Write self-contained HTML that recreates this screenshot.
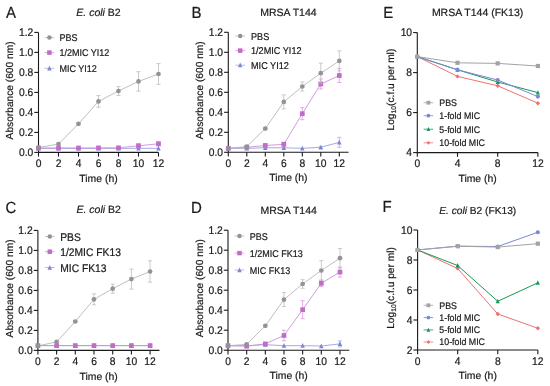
<!DOCTYPE html>
<html><head><meta charset="utf-8"><style>
html,body{margin:0;padding:0;background:#fff;width:550px;height:386px;overflow:hidden}
svg{display:block;will-change:transform;filter:blur(0.3px)}
text{font-family:"Liberation Sans", sans-serif;fill:#1a1a1a;text-rendering:geometricPrecision;stroke:#1a1a1a;stroke-width:0.2px}
</style></head><body>
<svg width="550" height="386" viewBox="0 0 550 386">
<rect width="550" height="386" fill="#fff"/>
<g>
<text transform="translate(6 17.8) scale(1 1.07)" font-size="15" text-anchor="start" >A</text>
<text x="98.5" y="16.1" font-size="10.5" text-anchor="middle"><tspan font-style="italic">E. coli</tspan> B2</text>
<path d="M38.5 32.4V152.4H158.5" fill="none" stroke="#1a1a1a" stroke-width="1.1"/>
<path d="M34.3 152.4H38.5" stroke="#1a1a1a" stroke-width="1.1"/>
<text transform="translate(33.3 156.25) scale(1 1.08)" font-size="10.3" text-anchor="end" >0.0</text>
<path d="M34.3 132.4H38.5" stroke="#1a1a1a" stroke-width="1.1"/>
<text transform="translate(33.3 136.25) scale(1 1.08)" font-size="10.3" text-anchor="end" >0.2</text>
<path d="M34.3 112.4H38.5" stroke="#1a1a1a" stroke-width="1.1"/>
<text transform="translate(33.3 116.25) scale(1 1.08)" font-size="10.3" text-anchor="end" >0.4</text>
<path d="M34.3 92.4H38.5" stroke="#1a1a1a" stroke-width="1.1"/>
<text transform="translate(33.3 96.25) scale(1 1.08)" font-size="10.3" text-anchor="end" >0.6</text>
<path d="M34.3 72.4H38.5" stroke="#1a1a1a" stroke-width="1.1"/>
<text transform="translate(33.3 76.25) scale(1 1.08)" font-size="10.3" text-anchor="end" >0.8</text>
<path d="M34.3 52.4H38.5" stroke="#1a1a1a" stroke-width="1.1"/>
<text transform="translate(33.3 56.25) scale(1 1.08)" font-size="10.3" text-anchor="end" >1.0</text>
<path d="M34.3 32.4H38.5" stroke="#1a1a1a" stroke-width="1.1"/>
<text transform="translate(33.3 36.25) scale(1 1.08)" font-size="10.3" text-anchor="end" >1.2</text>
<path d="M38.5 152.4V156.6" stroke="#1a1a1a" stroke-width="1.1"/>
<text transform="translate(38.5 167.2) scale(1 1.08)" font-size="10.3" text-anchor="middle" >0</text>
<path d="M58.5 152.4V156.6" stroke="#1a1a1a" stroke-width="1.1"/>
<text transform="translate(58.5 167.2) scale(1 1.08)" font-size="10.3" text-anchor="middle" >2</text>
<path d="M78.5 152.4V156.6" stroke="#1a1a1a" stroke-width="1.1"/>
<text transform="translate(78.5 167.2) scale(1 1.08)" font-size="10.3" text-anchor="middle" >4</text>
<path d="M98.5 152.4V156.6" stroke="#1a1a1a" stroke-width="1.1"/>
<text transform="translate(98.5 167.2) scale(1 1.08)" font-size="10.3" text-anchor="middle" >6</text>
<path d="M118.5 152.4V156.6" stroke="#1a1a1a" stroke-width="1.1"/>
<text transform="translate(118.5 167.2) scale(1 1.08)" font-size="10.3" text-anchor="middle" >8</text>
<path d="M138.5 152.4V156.6" stroke="#1a1a1a" stroke-width="1.1"/>
<text transform="translate(138.5 167.2) scale(1 1.08)" font-size="10.3" text-anchor="middle" >10</text>
<path d="M158.5 152.4V156.6" stroke="#1a1a1a" stroke-width="1.1"/>
<text transform="translate(158.5 167.2) scale(1 1.08)" font-size="10.3" text-anchor="middle" >12</text>
<text x="98.5" y="181.5" font-size="10.4" text-anchor="middle" >Time (h)</text>
<text transform="translate(12.9 90.4) rotate(-90)" font-size="10.2" text-anchor="middle">Absorbance (600 nm)</text>
<polyline points="38.5,148.4 58.5,148.4 78.5,148.4 98.5,148.4 118.5,148.4 138.5,148.3 158.5,148.3" fill="none" stroke="#9aa2e0" stroke-width="0.9"/>
<polyline points="38.5,148 58.5,148 78.5,148 98.5,147.9 118.5,147.8 138.5,145.8 158.5,143.8" fill="none" stroke="#cd92da" stroke-width="0.9"/>
<polyline points="38.5,147.6 58.5,144 78.5,123.8 98.5,101.4 118.5,91 138.5,81.4 158.5,74" fill="none" stroke="#b8b8ba" stroke-width="0.9"/>
<path d="M38.5 145.8L40.75 150.53L36.25 150.53Z" fill="#7c86d6"/>
<path d="M58.5 145.8L60.75 150.53L56.25 150.53Z" fill="#7c86d6"/>
<path d="M78.5 145.8L80.75 150.53L76.25 150.53Z" fill="#7c86d6"/>
<path d="M98.5 145.8L100.75 150.53L96.25 150.53Z" fill="#7c86d6"/>
<path d="M118.5 145.8L120.75 150.53L116.25 150.53Z" fill="#7c86d6"/>
<path d="M138.5 145.7L140.75 150.43L136.25 150.43Z" fill="#7c86d6"/>
<path d="M158.5 145.7L160.75 150.43L156.25 150.43Z" fill="#7c86d6"/>
<path d="M138.5 143.8V147.8M136.4 143.8H140.6M136.4 147.8H140.6" stroke="#d596da" stroke-width="0.75" fill="none"/>
<path d="M158.5 141.8V145.8M156.4 141.8H160.6M156.4 145.8H160.6" stroke="#d596da" stroke-width="0.75" fill="none"/>
<rect x="36.15" y="145.65" width="4.7" height="4.7" fill="#c36bc9"/>
<rect x="56.15" y="145.65" width="4.7" height="4.7" fill="#c36bc9"/>
<rect x="76.15" y="145.65" width="4.7" height="4.7" fill="#c36bc9"/>
<rect x="96.15" y="145.55" width="4.7" height="4.7" fill="#c36bc9"/>
<rect x="116.15" y="145.45" width="4.7" height="4.7" fill="#c36bc9"/>
<rect x="136.15" y="143.45" width="4.7" height="4.7" fill="#c36bc9"/>
<rect x="156.15" y="141.45" width="4.7" height="4.7" fill="#c36bc9"/>
<path d="M58.5 143V145M56.4 143H60.6M56.4 145H60.6" stroke="#b9b9bb" stroke-width="0.75" fill="none"/>
<path d="M78.5 122.8V124.8M76.4 122.8H80.6M76.4 124.8H80.6" stroke="#b9b9bb" stroke-width="0.75" fill="none"/>
<path d="M98.5 95.6V107.2M96.4 95.6H100.6M96.4 107.2H100.6" stroke="#b9b9bb" stroke-width="0.75" fill="none"/>
<path d="M118.5 86.6V95.4M116.4 86.6H120.6M116.4 95.4H120.6" stroke="#b9b9bb" stroke-width="0.75" fill="none"/>
<path d="M138.5 71.7V91.1M136.4 71.7H140.6M136.4 91.1H140.6" stroke="#b9b9bb" stroke-width="0.75" fill="none"/>
<path d="M158.5 63.6V84.4M156.4 63.6H160.6M156.4 84.4H160.6" stroke="#b9b9bb" stroke-width="0.75" fill="none"/>
<circle cx="38.5" cy="147.6" r="2.35" fill="#939396"/>
<circle cx="58.5" cy="144" r="2.35" fill="#939396"/>
<circle cx="78.5" cy="123.8" r="2.35" fill="#939396"/>
<circle cx="98.5" cy="101.4" r="2.35" fill="#939396"/>
<circle cx="118.5" cy="91" r="2.35" fill="#939396"/>
<circle cx="138.5" cy="81.4" r="2.35" fill="#939396"/>
<circle cx="158.5" cy="74" r="2.35" fill="#939396"/>
<path d="M44.6 37.6H54.2" stroke="#b9b9bb" stroke-width="0.8"/>
<circle cx="49.4" cy="37.6" r="2.25" fill="#939396"/>
<text transform="translate(59.5 41.1) scale(1 1.08)" font-size="9" text-anchor="start" >PBS</text>
<path d="M44.6 52.6H54.2" stroke="#d596da" stroke-width="0.8"/>
<rect x="47.15" y="50.35" width="4.5" height="4.5" fill="#c36bc9"/>
<text transform="translate(59.5 56.1) scale(1 1.08)" font-size="9" text-anchor="start" >1/2MIC YI12</text>
<path d="M44.6 68.3H54.2" stroke="#a3aae4" stroke-width="0.8"/>
<path d="M49.4 65.7L51.65 70.43L47.15 70.43Z" fill="#7c86d6"/>
<text transform="translate(59.5 71.8) scale(1 1.08)" font-size="9" text-anchor="start" >MIC YI12</text>
</g>
<g>
<text transform="translate(191.6 17.8) scale(1 1.07)" font-size="15" text-anchor="start" >B</text>
<text x="288.43" y="15.8" font-size="10.5" text-anchor="middle">MRSA T144</text>
<path d="M228.3 32.3V152.3H348.55" fill="none" stroke="#1a1a1a" stroke-width="1.1"/>
<path d="M224.1 152.3H228.3" stroke="#1a1a1a" stroke-width="1.1"/>
<text transform="translate(223.1 156.15) scale(1 1.08)" font-size="10.3" text-anchor="end" >0.0</text>
<path d="M224.1 132.3H228.3" stroke="#1a1a1a" stroke-width="1.1"/>
<text transform="translate(223.1 136.15) scale(1 1.08)" font-size="10.3" text-anchor="end" >0.2</text>
<path d="M224.1 112.3H228.3" stroke="#1a1a1a" stroke-width="1.1"/>
<text transform="translate(223.1 116.15) scale(1 1.08)" font-size="10.3" text-anchor="end" >0.4</text>
<path d="M224.1 92.3H228.3" stroke="#1a1a1a" stroke-width="1.1"/>
<text transform="translate(223.1 96.15) scale(1 1.08)" font-size="10.3" text-anchor="end" >0.6</text>
<path d="M224.1 72.3H228.3" stroke="#1a1a1a" stroke-width="1.1"/>
<text transform="translate(223.1 76.15) scale(1 1.08)" font-size="10.3" text-anchor="end" >0.8</text>
<path d="M224.1 52.3H228.3" stroke="#1a1a1a" stroke-width="1.1"/>
<text transform="translate(223.1 56.15) scale(1 1.08)" font-size="10.3" text-anchor="end" >1.0</text>
<path d="M224.1 32.3H228.3" stroke="#1a1a1a" stroke-width="1.1"/>
<text transform="translate(223.1 36.15) scale(1 1.08)" font-size="10.3" text-anchor="end" >1.2</text>
<path d="M228.3 152.3V156.5" stroke="#1a1a1a" stroke-width="1.1"/>
<text transform="translate(228.3 167.1) scale(1 1.08)" font-size="10.3" text-anchor="middle" >0</text>
<path d="M246.8 152.3V156.5" stroke="#1a1a1a" stroke-width="1.1"/>
<text transform="translate(246.8 167.1) scale(1 1.08)" font-size="10.3" text-anchor="middle" >2</text>
<path d="M265.3 152.3V156.5" stroke="#1a1a1a" stroke-width="1.1"/>
<text transform="translate(265.3 167.1) scale(1 1.08)" font-size="10.3" text-anchor="middle" >4</text>
<path d="M283.8 152.3V156.5" stroke="#1a1a1a" stroke-width="1.1"/>
<text transform="translate(283.8 167.1) scale(1 1.08)" font-size="10.3" text-anchor="middle" >6</text>
<path d="M302.3 152.3V156.5" stroke="#1a1a1a" stroke-width="1.1"/>
<text transform="translate(302.3 167.1) scale(1 1.08)" font-size="10.3" text-anchor="middle" >8</text>
<path d="M320.8 152.3V156.5" stroke="#1a1a1a" stroke-width="1.1"/>
<text transform="translate(320.8 167.1) scale(1 1.08)" font-size="10.3" text-anchor="middle" >10</text>
<path d="M339.3 152.3V156.5" stroke="#1a1a1a" stroke-width="1.1"/>
<text transform="translate(339.3 167.1) scale(1 1.08)" font-size="10.3" text-anchor="middle" >12</text>
<text x="288.43" y="181.4" font-size="10.4" text-anchor="middle" >Time (h)</text>
<text transform="translate(203.3 90.3) rotate(-90)" font-size="10.2" text-anchor="middle">Absorbance (600 nm)</text>
<polyline points="228.3,148.3 246.8,148.3 265.3,147.8 283.8,147.8 302.3,148.3 320.8,147.3 339.3,142.3" fill="none" stroke="#9aa2e0" stroke-width="0.9"/>
<polyline points="228.3,148.3 246.8,147.3 265.3,145.5 283.8,144.3 302.3,113.7 320.8,84 339.3,75.5" fill="none" stroke="#cd92da" stroke-width="0.9"/>
<polyline points="228.3,148.3 246.8,146.6 265.3,128.6 283.8,101.9 302.3,86.5 320.8,73.2 339.3,60.9" fill="none" stroke="#b8b8ba" stroke-width="0.9"/>
<path d="M320.8 146.3V148.3M318.7 146.3H322.9M318.7 148.3H322.9" stroke="#a3aae4" stroke-width="0.75" fill="none"/>
<path d="M339.3 137.3V147.3M337.2 137.3H341.4M337.2 147.3H341.4" stroke="#a3aae4" stroke-width="0.75" fill="none"/>
<path d="M228.3 145.7L230.55 150.43L226.05 150.43Z" fill="#7c86d6"/>
<path d="M246.8 145.7L249.05 150.43L244.55 150.43Z" fill="#7c86d6"/>
<path d="M265.3 145.2L267.55 149.93L263.05 149.93Z" fill="#7c86d6"/>
<path d="M283.8 145.2L286.05 149.93L281.55 149.93Z" fill="#7c86d6"/>
<path d="M302.3 145.7L304.55 150.43L300.05 150.43Z" fill="#7c86d6"/>
<path d="M320.8 144.7L323.05 149.43L318.55 149.43Z" fill="#7c86d6"/>
<path d="M339.3 139.7L341.55 144.43L337.05 144.43Z" fill="#7c86d6"/>
<path d="M265.3 143.5V147.5M263.2 143.5H267.4M263.2 147.5H267.4" stroke="#d596da" stroke-width="0.75" fill="none"/>
<path d="M283.8 142.3V146.3M281.7 142.3H285.9M281.7 146.3H285.9" stroke="#d596da" stroke-width="0.75" fill="none"/>
<path d="M302.3 107.7V119.7M300.2 107.7H304.4M300.2 119.7H304.4" stroke="#d596da" stroke-width="0.75" fill="none"/>
<path d="M320.8 79V89M318.7 79H322.9M318.7 89H322.9" stroke="#d596da" stroke-width="0.75" fill="none"/>
<path d="M339.3 68.5V82.5M337.2 68.5H341.4M337.2 82.5H341.4" stroke="#d596da" stroke-width="0.75" fill="none"/>
<rect x="225.95" y="145.95" width="4.7" height="4.7" fill="#c36bc9"/>
<rect x="244.45" y="144.95" width="4.7" height="4.7" fill="#c36bc9"/>
<rect x="262.95" y="143.15" width="4.7" height="4.7" fill="#c36bc9"/>
<rect x="281.45" y="141.95" width="4.7" height="4.7" fill="#c36bc9"/>
<rect x="299.95" y="111.35" width="4.7" height="4.7" fill="#c36bc9"/>
<rect x="318.45" y="81.65" width="4.7" height="4.7" fill="#c36bc9"/>
<rect x="336.95" y="73.15" width="4.7" height="4.7" fill="#c36bc9"/>
<path d="M246.8 145.6V147.6M244.7 145.6H248.9M244.7 147.6H248.9" stroke="#b9b9bb" stroke-width="0.75" fill="none"/>
<path d="M265.3 127.6V129.6M263.2 127.6H267.4M263.2 129.6H267.4" stroke="#b9b9bb" stroke-width="0.75" fill="none"/>
<path d="M283.8 94.9V108.9M281.7 94.9H285.9M281.7 108.9H285.9" stroke="#b9b9bb" stroke-width="0.75" fill="none"/>
<path d="M302.3 82V91M300.2 82H304.4M300.2 91H304.4" stroke="#b9b9bb" stroke-width="0.75" fill="none"/>
<path d="M320.8 63.2V83.2M318.7 63.2H322.9M318.7 83.2H322.9" stroke="#b9b9bb" stroke-width="0.75" fill="none"/>
<path d="M339.3 50.9V70.9M337.2 50.9H341.4M337.2 70.9H341.4" stroke="#b9b9bb" stroke-width="0.75" fill="none"/>
<circle cx="228.3" cy="148.3" r="2.35" fill="#939396"/>
<circle cx="246.8" cy="146.6" r="2.35" fill="#939396"/>
<circle cx="265.3" cy="128.6" r="2.35" fill="#939396"/>
<circle cx="283.8" cy="101.9" r="2.35" fill="#939396"/>
<circle cx="302.3" cy="86.5" r="2.35" fill="#939396"/>
<circle cx="320.8" cy="73.2" r="2.35" fill="#939396"/>
<circle cx="339.3" cy="60.9" r="2.35" fill="#939396"/>
<path d="M235.4 36H245" stroke="#b9b9bb" stroke-width="0.8"/>
<circle cx="240.2" cy="36" r="2.25" fill="#939396"/>
<text transform="translate(251 39.56) scale(1 1.08)" font-size="9.15" text-anchor="start" >PBS</text>
<path d="M235.4 50.6H245" stroke="#d596da" stroke-width="0.8"/>
<rect x="237.95" y="48.35" width="4.5" height="4.5" fill="#c36bc9"/>
<text transform="translate(251 54.16) scale(1 1.08)" font-size="9.15" text-anchor="start" >1/2MIC YI12</text>
<path d="M235.4 65.2H245" stroke="#a3aae4" stroke-width="0.8"/>
<path d="M240.2 62.6L242.45 67.33L237.95 67.33Z" fill="#7c86d6"/>
<text transform="translate(251 68.76) scale(1 1.08)" font-size="9.15" text-anchor="start" >MIC YI12</text>
</g>
<g>
<text transform="translate(5.6 212.6) scale(1 1.07)" font-size="15" text-anchor="start" >C</text>
<text x="98.67" y="213.2" font-size="10.5" text-anchor="middle"><tspan font-style="italic">E. coli</tspan> B2</text>
<path d="M37.9 230.4V350.4H159.45" fill="none" stroke="#1a1a1a" stroke-width="1.1"/>
<path d="M33.7 350.4H37.9" stroke="#1a1a1a" stroke-width="1.1"/>
<text transform="translate(32.7 354.25) scale(1 1.08)" font-size="10.3" text-anchor="end" >0.0</text>
<path d="M33.7 330.4H37.9" stroke="#1a1a1a" stroke-width="1.1"/>
<text transform="translate(32.7 334.25) scale(1 1.08)" font-size="10.3" text-anchor="end" >0.2</text>
<path d="M33.7 310.4H37.9" stroke="#1a1a1a" stroke-width="1.1"/>
<text transform="translate(32.7 314.25) scale(1 1.08)" font-size="10.3" text-anchor="end" >0.4</text>
<path d="M33.7 290.4H37.9" stroke="#1a1a1a" stroke-width="1.1"/>
<text transform="translate(32.7 294.25) scale(1 1.08)" font-size="10.3" text-anchor="end" >0.6</text>
<path d="M33.7 270.4H37.9" stroke="#1a1a1a" stroke-width="1.1"/>
<text transform="translate(32.7 274.25) scale(1 1.08)" font-size="10.3" text-anchor="end" >0.8</text>
<path d="M33.7 250.4H37.9" stroke="#1a1a1a" stroke-width="1.1"/>
<text transform="translate(32.7 254.25) scale(1 1.08)" font-size="10.3" text-anchor="end" >1.0</text>
<path d="M33.7 230.4H37.9" stroke="#1a1a1a" stroke-width="1.1"/>
<text transform="translate(32.7 234.25) scale(1 1.08)" font-size="10.3" text-anchor="end" >1.2</text>
<path d="M37.9 350.4V354.6" stroke="#1a1a1a" stroke-width="1.1"/>
<text transform="translate(37.9 365.2) scale(1 1.08)" font-size="10.3" text-anchor="middle" >0</text>
<path d="M56.6 350.4V354.6" stroke="#1a1a1a" stroke-width="1.1"/>
<text transform="translate(56.6 365.2) scale(1 1.08)" font-size="10.3" text-anchor="middle" >2</text>
<path d="M75.3 350.4V354.6" stroke="#1a1a1a" stroke-width="1.1"/>
<text transform="translate(75.3 365.2) scale(1 1.08)" font-size="10.3" text-anchor="middle" >4</text>
<path d="M94 350.4V354.6" stroke="#1a1a1a" stroke-width="1.1"/>
<text transform="translate(94 365.2) scale(1 1.08)" font-size="10.3" text-anchor="middle" >6</text>
<path d="M112.7 350.4V354.6" stroke="#1a1a1a" stroke-width="1.1"/>
<text transform="translate(112.7 365.2) scale(1 1.08)" font-size="10.3" text-anchor="middle" >8</text>
<path d="M131.4 350.4V354.6" stroke="#1a1a1a" stroke-width="1.1"/>
<text transform="translate(131.4 365.2) scale(1 1.08)" font-size="10.3" text-anchor="middle" >10</text>
<path d="M150.1 350.4V354.6" stroke="#1a1a1a" stroke-width="1.1"/>
<text transform="translate(150.1 365.2) scale(1 1.08)" font-size="10.3" text-anchor="middle" >12</text>
<text x="98.67" y="379.5" font-size="10.4" text-anchor="middle" >Time (h)</text>
<text transform="translate(12.9 288.4) rotate(-90)" font-size="10.2" text-anchor="middle">Absorbance (600 nm)</text>
<polyline points="37.9,345.6 56.6,345.6 75.3,345.6 94,345.6 112.7,345.6 131.4,345.6 150.1,345.6" fill="none" stroke="#9aa2e0" stroke-width="0.9"/>
<polyline points="37.9,345.6 56.6,345.6 75.3,345.6 94,345.6 112.7,345.6 131.4,345.6 150.1,345.6" fill="none" stroke="#cd92da" stroke-width="0.9"/>
<polyline points="37.9,345.9 56.6,341.9 75.3,321.5 94,299.3 112.7,288.7 131.4,279.1 150.1,271.5" fill="none" stroke="#b8b8ba" stroke-width="0.9"/>
<path d="M37.9 343L40.15 347.73L35.65 347.73Z" fill="#7c86d6"/>
<path d="M56.6 343L58.85 347.73L54.35 347.73Z" fill="#7c86d6"/>
<path d="M75.3 343L77.55 347.73L73.05 347.73Z" fill="#7c86d6"/>
<path d="M94 343L96.25 347.73L91.75 347.73Z" fill="#7c86d6"/>
<path d="M112.7 343L114.95 347.73L110.45 347.73Z" fill="#7c86d6"/>
<path d="M131.4 343L133.65 347.73L129.15 347.73Z" fill="#7c86d6"/>
<path d="M150.1 343L152.35 347.73L147.85 347.73Z" fill="#7c86d6"/>
<rect x="35.55" y="343.25" width="4.7" height="4.7" fill="#c36bc9"/>
<rect x="54.25" y="343.25" width="4.7" height="4.7" fill="#c36bc9"/>
<rect x="72.95" y="343.25" width="4.7" height="4.7" fill="#c36bc9"/>
<rect x="91.65" y="343.25" width="4.7" height="4.7" fill="#c36bc9"/>
<rect x="110.35" y="343.25" width="4.7" height="4.7" fill="#c36bc9"/>
<rect x="129.05" y="343.25" width="4.7" height="4.7" fill="#c36bc9"/>
<rect x="147.75" y="343.25" width="4.7" height="4.7" fill="#c36bc9"/>
<path d="M56.6 340.9V342.9M54.5 340.9H58.7M54.5 342.9H58.7" stroke="#b9b9bb" stroke-width="0.75" fill="none"/>
<path d="M75.3 320.5V322.5M73.2 320.5H77.4M73.2 322.5H77.4" stroke="#b9b9bb" stroke-width="0.75" fill="none"/>
<path d="M94 293.8V304.8M91.9 293.8H96.1M91.9 304.8H96.1" stroke="#b9b9bb" stroke-width="0.75" fill="none"/>
<path d="M112.7 284.2V293.2M110.6 284.2H114.8M110.6 293.2H114.8" stroke="#b9b9bb" stroke-width="0.75" fill="none"/>
<path d="M131.4 269.1V289.1M129.3 269.1H133.5M129.3 289.1H133.5" stroke="#b9b9bb" stroke-width="0.75" fill="none"/>
<path d="M150.1 260.8V282.2M148 260.8H152.2M148 282.2H152.2" stroke="#b9b9bb" stroke-width="0.75" fill="none"/>
<circle cx="37.9" cy="345.9" r="2.35" fill="#939396"/>
<circle cx="56.6" cy="341.9" r="2.35" fill="#939396"/>
<circle cx="75.3" cy="321.5" r="2.35" fill="#939396"/>
<circle cx="94" cy="299.3" r="2.35" fill="#939396"/>
<circle cx="112.7" cy="288.7" r="2.35" fill="#939396"/>
<circle cx="131.4" cy="279.1" r="2.35" fill="#939396"/>
<circle cx="150.1" cy="271.5" r="2.35" fill="#939396"/>
<path d="M45 236.5H54.6" stroke="#b9b9bb" stroke-width="0.8"/>
<circle cx="49.8" cy="236.5" r="2.25" fill="#939396"/>
<text transform="translate(60.2 240.5) scale(1 1.08)" font-size="10.3" text-anchor="start" >PBS</text>
<path d="M45 251.7H54.6" stroke="#d596da" stroke-width="0.8"/>
<rect x="47.55" y="249.45" width="4.5" height="4.5" fill="#c36bc9"/>
<text transform="translate(60.2 255.7) scale(1 1.08)" font-size="10.3" text-anchor="start" >1/2MIC FK13</text>
<path d="M45 267.5H54.6" stroke="#a3aae4" stroke-width="0.8"/>
<path d="M49.8 264.9L52.05 269.63L47.55 269.63Z" fill="#7c86d6"/>
<text transform="translate(60.2 271.5) scale(1 1.08)" font-size="10.3" text-anchor="start" >MIC FK13</text>
</g>
<g>
<text transform="translate(191 212.6) scale(1 1.07)" font-size="15" text-anchor="start" >D</text>
<text x="288.64" y="213.6" font-size="10.5" text-anchor="middle">MRSA T144</text>
<path d="M228 230.2V350.2H349.29" fill="none" stroke="#1a1a1a" stroke-width="1.1"/>
<path d="M223.8 350.2H228" stroke="#1a1a1a" stroke-width="1.1"/>
<text transform="translate(222.8 354.05) scale(1 1.08)" font-size="10.3" text-anchor="end" >0.0</text>
<path d="M223.8 330.2H228" stroke="#1a1a1a" stroke-width="1.1"/>
<text transform="translate(222.8 334.05) scale(1 1.08)" font-size="10.3" text-anchor="end" >0.2</text>
<path d="M223.8 310.2H228" stroke="#1a1a1a" stroke-width="1.1"/>
<text transform="translate(222.8 314.05) scale(1 1.08)" font-size="10.3" text-anchor="end" >0.4</text>
<path d="M223.8 290.2H228" stroke="#1a1a1a" stroke-width="1.1"/>
<text transform="translate(222.8 294.05) scale(1 1.08)" font-size="10.3" text-anchor="end" >0.6</text>
<path d="M223.8 270.2H228" stroke="#1a1a1a" stroke-width="1.1"/>
<text transform="translate(222.8 274.05) scale(1 1.08)" font-size="10.3" text-anchor="end" >0.8</text>
<path d="M223.8 250.2H228" stroke="#1a1a1a" stroke-width="1.1"/>
<text transform="translate(222.8 254.05) scale(1 1.08)" font-size="10.3" text-anchor="end" >1.0</text>
<path d="M223.8 230.2H228" stroke="#1a1a1a" stroke-width="1.1"/>
<text transform="translate(222.8 234.05) scale(1 1.08)" font-size="10.3" text-anchor="end" >1.2</text>
<path d="M228 350.2V354.4" stroke="#1a1a1a" stroke-width="1.1"/>
<text transform="translate(228 365) scale(1 1.08)" font-size="10.3" text-anchor="middle" >0</text>
<path d="M246.66 350.2V354.4" stroke="#1a1a1a" stroke-width="1.1"/>
<text transform="translate(246.66 365) scale(1 1.08)" font-size="10.3" text-anchor="middle" >2</text>
<path d="M265.32 350.2V354.4" stroke="#1a1a1a" stroke-width="1.1"/>
<text transform="translate(265.32 365) scale(1 1.08)" font-size="10.3" text-anchor="middle" >4</text>
<path d="M283.98 350.2V354.4" stroke="#1a1a1a" stroke-width="1.1"/>
<text transform="translate(283.98 365) scale(1 1.08)" font-size="10.3" text-anchor="middle" >6</text>
<path d="M302.64 350.2V354.4" stroke="#1a1a1a" stroke-width="1.1"/>
<text transform="translate(302.64 365) scale(1 1.08)" font-size="10.3" text-anchor="middle" >8</text>
<path d="M321.3 350.2V354.4" stroke="#1a1a1a" stroke-width="1.1"/>
<text transform="translate(321.3 365) scale(1 1.08)" font-size="10.3" text-anchor="middle" >10</text>
<path d="M339.96 350.2V354.4" stroke="#1a1a1a" stroke-width="1.1"/>
<text transform="translate(339.96 365) scale(1 1.08)" font-size="10.3" text-anchor="middle" >12</text>
<text x="288.64" y="379.3" font-size="10.4" text-anchor="middle" >Time (h)</text>
<text transform="translate(203.1 288.2) rotate(-90)" font-size="10.2" text-anchor="middle">Absorbance (600 nm)</text>
<polyline points="228,345.7 246.66,345.7 265.32,344.7 283.98,345.7 302.64,345.7 321.3,346 339.96,343.9" fill="none" stroke="#9aa2e0" stroke-width="0.9"/>
<polyline points="228,345.7 246.66,346.2 265.32,343.9 283.98,335.5 302.64,309.7 321.3,283.3 339.96,272.1" fill="none" stroke="#cd92da" stroke-width="0.9"/>
<polyline points="228,345.7 246.66,344.4 265.32,325.8 283.98,299.6 302.64,284 321.3,270.5 339.96,258.2" fill="none" stroke="#b8b8ba" stroke-width="0.9"/>
<path d="M339.96 340.9V346.9M337.86 340.9H342.06M337.86 346.9H342.06" stroke="#a3aae4" stroke-width="0.75" fill="none"/>
<path d="M228 343.1L230.25 347.83L225.75 347.83Z" fill="#7c86d6"/>
<path d="M246.66 343.1L248.91 347.83L244.41 347.83Z" fill="#7c86d6"/>
<path d="M265.32 342.1L267.57 346.83L263.07 346.83Z" fill="#7c86d6"/>
<path d="M283.98 343.1L286.23 347.83L281.73 347.83Z" fill="#7c86d6"/>
<path d="M302.64 343.1L304.89 347.83L300.39 347.83Z" fill="#7c86d6"/>
<path d="M321.3 343.4L323.55 348.13L319.05 348.13Z" fill="#7c86d6"/>
<path d="M339.96 341.3L342.21 346.03L337.71 346.03Z" fill="#7c86d6"/>
<path d="M265.32 342.9V344.9M263.22 342.9H267.42M263.22 344.9H267.42" stroke="#d596da" stroke-width="0.75" fill="none"/>
<path d="M283.98 330.2V340.8M281.88 330.2H286.08M281.88 340.8H286.08" stroke="#d596da" stroke-width="0.75" fill="none"/>
<path d="M302.64 300.7V318.7M300.54 300.7H304.74M300.54 318.7H304.74" stroke="#d596da" stroke-width="0.75" fill="none"/>
<path d="M321.3 280V286.6M319.2 280H323.4M319.2 286.6H323.4" stroke="#d596da" stroke-width="0.75" fill="none"/>
<path d="M339.96 267.1V277.1M337.86 267.1H342.06M337.86 277.1H342.06" stroke="#d596da" stroke-width="0.75" fill="none"/>
<rect x="225.65" y="343.35" width="4.7" height="4.7" fill="#c36bc9"/>
<rect x="244.31" y="343.85" width="4.7" height="4.7" fill="#c36bc9"/>
<rect x="262.97" y="341.55" width="4.7" height="4.7" fill="#c36bc9"/>
<rect x="281.63" y="333.15" width="4.7" height="4.7" fill="#c36bc9"/>
<rect x="300.29" y="307.35" width="4.7" height="4.7" fill="#c36bc9"/>
<rect x="318.95" y="280.95" width="4.7" height="4.7" fill="#c36bc9"/>
<rect x="337.61" y="269.75" width="4.7" height="4.7" fill="#c36bc9"/>
<path d="M246.66 343.4V345.4M244.56 343.4H248.76M244.56 345.4H248.76" stroke="#b9b9bb" stroke-width="0.75" fill="none"/>
<path d="M265.32 324.8V326.8M263.22 324.8H267.42M263.22 326.8H267.42" stroke="#b9b9bb" stroke-width="0.75" fill="none"/>
<path d="M283.98 292.6V306.6M281.88 292.6H286.08M281.88 306.6H286.08" stroke="#b9b9bb" stroke-width="0.75" fill="none"/>
<path d="M302.64 279.7V288.3M300.54 279.7H304.74M300.54 288.3H304.74" stroke="#b9b9bb" stroke-width="0.75" fill="none"/>
<path d="M321.3 260.7V280.3M319.2 260.7H323.4M319.2 280.3H323.4" stroke="#b9b9bb" stroke-width="0.75" fill="none"/>
<path d="M339.96 248.5V267.9M337.86 248.5H342.06M337.86 267.9H342.06" stroke="#b9b9bb" stroke-width="0.75" fill="none"/>
<circle cx="228" cy="345.7" r="2.35" fill="#939396"/>
<circle cx="246.66" cy="344.4" r="2.35" fill="#939396"/>
<circle cx="265.32" cy="325.8" r="2.35" fill="#939396"/>
<circle cx="283.98" cy="299.6" r="2.35" fill="#939396"/>
<circle cx="302.64" cy="284" r="2.35" fill="#939396"/>
<circle cx="321.3" cy="270.5" r="2.35" fill="#939396"/>
<circle cx="339.96" cy="258.2" r="2.35" fill="#939396"/>
<path d="M234.7 236.1H244.3" stroke="#b9b9bb" stroke-width="0.8"/>
<circle cx="239.5" cy="236.1" r="2.25" fill="#939396"/>
<text transform="translate(249.8 239.6) scale(1 1.08)" font-size="9" text-anchor="start" >PBS</text>
<path d="M234.7 253.1H244.3" stroke="#d596da" stroke-width="0.8"/>
<rect x="237.25" y="250.85" width="4.5" height="4.5" fill="#c36bc9"/>
<text transform="translate(249.8 256.6) scale(1 1.08)" font-size="9" text-anchor="start" >1/2MIC FK13</text>
<path d="M234.7 270H244.3" stroke="#a3aae4" stroke-width="0.8"/>
<path d="M239.5 267.4L241.75 272.13L237.25 272.13Z" fill="#7c86d6"/>
<text transform="translate(249.8 273.5) scale(1 1.08)" font-size="9" text-anchor="start" >MIC FK13</text>
</g>
<g>
<text transform="translate(383.2 18.2) scale(1 1.07)" font-size="15" text-anchor="start" >E</text>
<text x="477.6" y="16" font-size="10.5" text-anchor="middle">MRSA T144 (FK13)</text>
<path d="M417.3 32.6V152.6H537.9" fill="none" stroke="#1a1a1a" stroke-width="1.1"/>
<path d="M413.1 152.6H417.3" stroke="#1a1a1a" stroke-width="1.1"/>
<text transform="translate(412.1 156.45) scale(1 1.08)" font-size="10.3" text-anchor="end" >4</text>
<path d="M413.1 112.6H417.3" stroke="#1a1a1a" stroke-width="1.1"/>
<text transform="translate(412.1 116.45) scale(1 1.08)" font-size="10.3" text-anchor="end" >6</text>
<path d="M413.1 72.6H417.3" stroke="#1a1a1a" stroke-width="1.1"/>
<text transform="translate(412.1 76.45) scale(1 1.08)" font-size="10.3" text-anchor="end" >8</text>
<path d="M413.1 32.6H417.3" stroke="#1a1a1a" stroke-width="1.1"/>
<text transform="translate(412.1 36.45) scale(1 1.08)" font-size="10.3" text-anchor="end" >10</text>
<path d="M417.3 152.6V156.8" stroke="#1a1a1a" stroke-width="1.1"/>
<text transform="translate(417.3 167.4) scale(1 1.08)" font-size="10.3" text-anchor="middle" >0</text>
<path d="M457.5 152.6V156.8" stroke="#1a1a1a" stroke-width="1.1"/>
<text transform="translate(457.5 167.4) scale(1 1.08)" font-size="10.3" text-anchor="middle" >4</text>
<path d="M497.7 152.6V156.8" stroke="#1a1a1a" stroke-width="1.1"/>
<text transform="translate(497.7 167.4) scale(1 1.08)" font-size="10.3" text-anchor="middle" >8</text>
<path d="M537.9 152.6V156.8" stroke="#1a1a1a" stroke-width="1.1"/>
<text transform="translate(537.9 167.4) scale(1 1.08)" font-size="10.3" text-anchor="middle" >12</text>
<text x="477.6" y="181.7" font-size="10.4" text-anchor="middle" >Time (h)</text>
<text transform="translate(394 89.6) rotate(-90)" font-size="10.2" text-anchor="middle">Log<tspan font-size="6.8" dy="2.2">10</tspan><tspan dy="-2.2">(c.f.u per ml)</tspan></text>
<polyline points="417.3,56.6 457.5,76.4 497.7,85.8 537.9,103.2" fill="none" stroke="#ef7272" stroke-width="1.0"/>
<polyline points="417.3,56.6 457.5,69.8 497.7,82 537.9,92.6" fill="none" stroke="#17995a" stroke-width="1.0"/>
<polyline points="417.3,56.6 457.5,69.8 497.7,80 537.9,96.6" fill="none" stroke="#7b87d8" stroke-width="1.0"/>
<polyline points="417.3,56.6 457.5,62.8 497.7,63.4 537.9,66" fill="none" stroke="#a3a3a5" stroke-width="1.0"/>
<path d="M417.3 54.4L419.5 56.6L417.3 58.8L415.1 56.6Z" fill="#ef7272"/>
<path d="M457.5 74.2L459.7 76.4L457.5 78.6L455.3 76.4Z" fill="#ef7272"/>
<path d="M497.7 83.6L499.9 85.8L497.7 88L495.5 85.8Z" fill="#ef7272"/>
<path d="M537.9 101L540.1 103.2L537.9 105.4L535.7 103.2Z" fill="#ef7272"/>
<path d="M417.3 54.17L419.4 58.58L415.2 58.58Z" fill="#17995a"/>
<path d="M457.5 67.37L459.6 71.78L455.4 71.78Z" fill="#17995a"/>
<path d="M497.7 79.57L499.8 83.98L495.6 83.98Z" fill="#17995a"/>
<path d="M537.9 90.17L540 94.58L535.8 94.58Z" fill="#17995a"/>
<circle cx="417.3" cy="56.6" r="2.1" fill="#7b87d8"/>
<circle cx="457.5" cy="69.8" r="2.1" fill="#7b87d8"/>
<circle cx="497.7" cy="80" r="2.1" fill="#7b87d8"/>
<circle cx="537.9" cy="96.6" r="2.1" fill="#7b87d8"/>
<rect x="415.2" y="54.5" width="4.2" height="4.2" fill="#a3a3a5"/>
<rect x="455.4" y="60.7" width="4.2" height="4.2" fill="#a3a3a5"/>
<rect x="495.6" y="61.3" width="4.2" height="4.2" fill="#a3a3a5"/>
<rect x="535.8" y="63.9" width="4.2" height="4.2" fill="#a3a3a5"/>
<path d="M423.6 102.7H433.2" stroke="#a3a3a5" stroke-width="0.8"/>
<rect x="426.5" y="100.8" width="3.8" height="3.8" fill="#a3a3a5"/>
<text transform="translate(439.3 106.14) scale(1 1.08)" font-size="8.85" text-anchor="start" >PBS</text>
<path d="M423.6 115.7H433.2" stroke="#7b87d8" stroke-width="0.8"/>
<circle cx="428.4" cy="115.7" r="1.9" fill="#7b87d8"/>
<text transform="translate(439.3 119.14) scale(1 1.08)" font-size="8.85" text-anchor="start" >1-fold MIC</text>
<path d="M423.6 129.2H433.2" stroke="#17995a" stroke-width="0.8"/>
<path d="M428.4 127.01L430.3 131L426.5 131Z" fill="#17995a"/>
<text transform="translate(439.3 132.64) scale(1 1.08)" font-size="8.85" text-anchor="start" >5-fold MIC</text>
<path d="M423.6 142.8H433.2" stroke="#ef7272" stroke-width="0.8"/>
<path d="M428.4 140.9L430.3 142.8L428.4 144.7L426.5 142.8Z" fill="#ef7272"/>
<text transform="translate(439.3 146.24) scale(1 1.08)" font-size="8.85" text-anchor="start" >10-fold MIC</text>
</g>
<g>
<text transform="translate(382.4 212.2) scale(1 1.07)" font-size="15" text-anchor="start" >F</text>
<text x="477.72" y="213.8" font-size="10.2" text-anchor="middle"><tspan font-style="italic">E. coli</tspan> B2 (FK13)</text>
<path d="M417.6 230V350H537.84" fill="none" stroke="#1a1a1a" stroke-width="1.1"/>
<path d="M413.4 350H417.6" stroke="#1a1a1a" stroke-width="1.1"/>
<text transform="translate(412.4 353.85) scale(1 1.08)" font-size="10.3" text-anchor="end" >2</text>
<path d="M413.4 320H417.6" stroke="#1a1a1a" stroke-width="1.1"/>
<text transform="translate(412.4 323.85) scale(1 1.08)" font-size="10.3" text-anchor="end" >4</text>
<path d="M413.4 290H417.6" stroke="#1a1a1a" stroke-width="1.1"/>
<text transform="translate(412.4 293.85) scale(1 1.08)" font-size="10.3" text-anchor="end" >6</text>
<path d="M413.4 260H417.6" stroke="#1a1a1a" stroke-width="1.1"/>
<text transform="translate(412.4 263.85) scale(1 1.08)" font-size="10.3" text-anchor="end" >8</text>
<path d="M413.4 230H417.6" stroke="#1a1a1a" stroke-width="1.1"/>
<text transform="translate(412.4 233.85) scale(1 1.08)" font-size="10.3" text-anchor="end" >10</text>
<path d="M417.6 350V354.2" stroke="#1a1a1a" stroke-width="1.1"/>
<text transform="translate(417.6 364.8) scale(1 1.08)" font-size="10.3" text-anchor="middle" >0</text>
<path d="M457.68 350V354.2" stroke="#1a1a1a" stroke-width="1.1"/>
<text transform="translate(457.68 364.8) scale(1 1.08)" font-size="10.3" text-anchor="middle" >4</text>
<path d="M497.76 350V354.2" stroke="#1a1a1a" stroke-width="1.1"/>
<text transform="translate(497.76 364.8) scale(1 1.08)" font-size="10.3" text-anchor="middle" >8</text>
<path d="M537.84 350V354.2" stroke="#1a1a1a" stroke-width="1.1"/>
<text transform="translate(537.84 364.8) scale(1 1.08)" font-size="10.3" text-anchor="middle" >12</text>
<text x="477.72" y="379.1" font-size="10.4" text-anchor="middle" >Time (h)</text>
<text transform="translate(394 288) rotate(-90)" font-size="10.2" text-anchor="middle">Log<tspan font-size="6.8" dy="2.2">10</tspan><tspan dy="-2.2">(c.f.u per ml)</tspan></text>
<polyline points="417.6,249.95 457.68,268.55 497.76,314 537.84,328.25" fill="none" stroke="#ef7272" stroke-width="1.0"/>
<polyline points="417.6,249.95 457.68,265.55 497.76,301.25 537.84,282.8" fill="none" stroke="#17995a" stroke-width="1.0"/>
<polyline points="417.6,249.95 457.68,246.2 497.76,246.5 537.84,232.25" fill="none" stroke="#7b87d8" stroke-width="1.0"/>
<polyline points="417.6,249.95 457.68,246.2 497.76,247.1 537.84,243.65" fill="none" stroke="#a3a3a5" stroke-width="1.0"/>
<path d="M417.6 247.75L419.8 249.95L417.6 252.15L415.4 249.95Z" fill="#ef7272"/>
<path d="M457.68 266.35L459.88 268.55L457.68 270.75L455.48 268.55Z" fill="#ef7272"/>
<path d="M497.76 311.8L499.96 314L497.76 316.2L495.56 314Z" fill="#ef7272"/>
<path d="M537.84 326.05L540.04 328.25L537.84 330.45L535.64 328.25Z" fill="#ef7272"/>
<path d="M417.6 247.52L419.7 251.93L415.5 251.93Z" fill="#17995a"/>
<path d="M457.68 263.12L459.78 267.53L455.58 267.53Z" fill="#17995a"/>
<path d="M497.76 298.82L499.86 303.23L495.66 303.23Z" fill="#17995a"/>
<path d="M537.84 280.37L539.94 284.78L535.74 284.78Z" fill="#17995a"/>
<circle cx="417.6" cy="249.95" r="2.1" fill="#7b87d8"/>
<circle cx="457.68" cy="246.2" r="2.1" fill="#7b87d8"/>
<circle cx="497.76" cy="246.5" r="2.1" fill="#7b87d8"/>
<circle cx="537.84" cy="232.25" r="2.1" fill="#7b87d8"/>
<rect x="415.5" y="247.85" width="4.2" height="4.2" fill="#a3a3a5"/>
<rect x="455.58" y="244.1" width="4.2" height="4.2" fill="#a3a3a5"/>
<rect x="495.66" y="245" width="4.2" height="4.2" fill="#a3a3a5"/>
<rect x="535.74" y="241.55" width="4.2" height="4.2" fill="#a3a3a5"/>
<path d="M423.6 305.3H433.2" stroke="#a3a3a5" stroke-width="0.8"/>
<rect x="426.5" y="303.4" width="3.8" height="3.8" fill="#a3a3a5"/>
<text transform="translate(439.3 308.74) scale(1 1.08)" font-size="8.85" text-anchor="start" >PBS</text>
<path d="M423.6 317.6H433.2" stroke="#7b87d8" stroke-width="0.8"/>
<circle cx="428.4" cy="317.6" r="1.9" fill="#7b87d8"/>
<text transform="translate(439.3 321.04) scale(1 1.08)" font-size="8.85" text-anchor="start" >1-fold MIC</text>
<path d="M423.6 329.9H433.2" stroke="#17995a" stroke-width="0.8"/>
<path d="M428.4 327.71L430.3 331.7L426.5 331.7Z" fill="#17995a"/>
<text transform="translate(439.3 333.34) scale(1 1.08)" font-size="8.85" text-anchor="start" >5-fold MIC</text>
<path d="M423.6 342H433.2" stroke="#ef7272" stroke-width="0.8"/>
<path d="M428.4 340.1L430.3 342L428.4 343.9L426.5 342Z" fill="#ef7272"/>
<text transform="translate(439.3 345.44) scale(1 1.08)" font-size="8.85" text-anchor="start" >10-fold MIC</text>
</g>
</svg></body></html>
